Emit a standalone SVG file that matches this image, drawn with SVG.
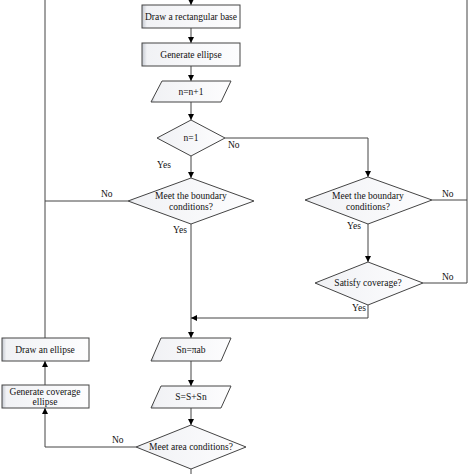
<svg xmlns="http://www.w3.org/2000/svg" width="474" height="474" viewBox="0 0 474 474">
<defs>
<linearGradient id="fill" x1="0" y1="0" x2="1" y2="0">
<stop offset="0" stop-color="#c4c8d0"/>
<stop offset="0.05" stop-color="#f1f2f5"/>
<stop offset="1" stop-color="#fdfdfe"/>
</linearGradient>
<marker id="arr" viewBox="0 0 10 10" refX="10" refY="5" markerWidth="6" markerHeight="6" orient="auto" markerUnits="userSpaceOnUse">
<path d="M0,0 L10,5 L0,10 Z" fill="#000"/>
</marker>
</defs>
<style>
.shape{fill:url(#fill);stroke:#444;stroke-width:1}
.t{font-family:"Liberation Serif","DejaVu Serif",serif;font-size:9.5px;fill:#111;text-anchor:middle}
.l{font-family:"Liberation Serif","DejaVu Serif",serif;font-size:9.5px;fill:#111}
.c{fill:none;stroke:#444;stroke-width:1}
</style>
<rect width="474" height="474" fill="#fff"/>
<g id="connectors">
<path class="c" d="M191,0 V5" marker-end="url(#arr)"/>
<path class="c" d="M191,28 V43" marker-end="url(#arr)"/>
<path class="c" d="M191,66 V81" marker-end="url(#arr)"/>
<path class="c" d="M191,102 V120" marker-end="url(#arr)"/>
<path class="c" d="M191,156 V178" marker-end="url(#arr)"/>
<path class="c" d="M191,224 V338" marker-end="url(#arr)"/>
<path class="c" d="M368,305 V318 H191" marker-end="url(#arr)"/>
<path class="c" d="M191,361 V386" marker-end="url(#arr)"/>
<path class="c" d="M191,408 V425" marker-end="url(#arr)"/>
<path class="c" d="M191,469 V474"/>
<path class="c" d="M136,447 H45 V408" marker-end="url(#arr)"/>
<path class="c" d="M45,385 V361" marker-end="url(#arr)"/>
<path class="c" d="M45,338 V0"/>
<path class="c" d="M128,201 H45"/>
<path class="c" d="M225,138 H368 V177" marker-end="url(#arr)"/>
<path class="c" d="M432,200 H467"/>
<path class="c" d="M467,0 V283 H423"/>
<path class="c" d="M368,224 V262" marker-end="url(#arr)"/>
</g>
<g id="draw-base">
<rect class="shape" x="142" y="5" width="98" height="23"/>
<text class="t" x="191" y="20">Draw a rectangular base</text>
</g>
<g id="generate-ellipse">
<rect class="shape" x="142" y="43" width="98" height="23"/>
<text class="t" x="191" y="58">Generate ellipse</text>
</g>
<g id="n-increment">
<polygon class="shape" points="162,81 231,81 221,102 151,102"/>
<text class="t" x="191" y="95">n=n+1</text>
</g>
<g id="n-equals-1">
<polygon class="shape" points="191,120 225,138 191,156 157,138"/>
<text class="t" x="191" y="141">n=1</text>
<text class="l" x="228" y="148">No</text>
<text class="l" x="157" y="168">Yes</text>
</g>
<g id="boundary-left">
<polygon class="shape" points="191,178 254,201 191,224 128,201"/>
<text class="t" x="191" y="199">Meet the boundary</text>
<text class="t" x="191" y="210">conditions?</text>
<text class="l" x="101" y="197">No</text>
<text class="l" x="173" y="233">Yes</text>
</g>
<g id="boundary-right">
<polygon class="shape" points="368,177 432,200 368,224 305,200"/>
<text class="t" x="368" y="199">Meet the boundary</text>
<text class="t" x="368" y="210">conditions?</text>
<text class="l" x="442" y="197">No</text>
<text class="l" x="347" y="229">Yes</text>
</g>
<g id="satisfy-coverage">
<polygon class="shape" points="368,262 423,283 368,305 315,283"/>
<text class="t" x="368" y="286">Satisfy coverage?</text>
<text class="l" x="442" y="280">No</text>
<text class="l" x="352" y="311">Yes</text>
</g>
<g id="sn">
<polygon class="shape" points="161,338 231,338 221,361 151,361"/>
<text class="t" x="191" y="353">Sn=πab</text>
</g>
<g id="s-sum">
<polygon class="shape" points="161,386 231,386 221,408 151,408"/>
<text class="t" x="191" y="400">S=S+Sn</text>
</g>
<g id="area-conditions">
<polygon class="shape" points="191,425 246,447 191,469 136,447"/>
<text class="t" x="191" y="450">Meet area conditions?</text>
<text class="l" x="112" y="443">No</text>
</g>
<g id="draw-ellipse">
<rect class="shape" x="2" y="338" width="87" height="23"/>
<text class="t" x="45" y="353">Draw an ellipse</text>
</g>
<g id="generate-coverage">
<rect class="shape" x="2" y="385" width="87" height="23"/>
<text class="t" x="45" y="395">Generate coverage</text>
<text class="t" x="45" y="405">ellipse</text>
</g>
</svg>
